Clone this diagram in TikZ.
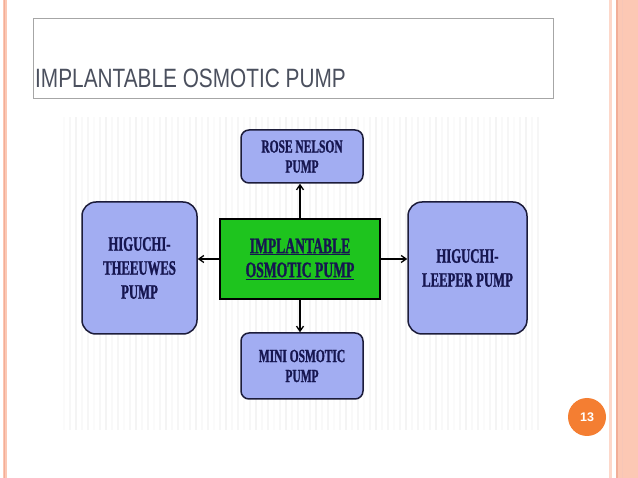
\documentclass[tikz,border=0pt]{standalone}
\usepackage{fontspec}
\usetikzlibrary{arrows.meta}
\newfontfamily\boxfont[FakeStretch=0.62,BoldFeatures={FakeBold=1.2}]{Liberation Serif}
\newfontfamily\titlefont[FakeStretch=0.785]{Liberation Sans}
\newfontfamily\numfont{Liberation Sans}
\definecolor{boxfill}{HTML}{A2ADF2}
\definecolor{boxline}{HTML}{1C1C3A}
\definecolor{boxtext}{HTML}{161650}
\definecolor{ctrfill}{HTML}{1EC41E}
\definecolor{titlegray}{HTML}{4B505E}
\definecolor{salmon}{HTML}{FCC8B4}
\definecolor{salmondark}{HTML}{F2AE98}
\definecolor{pgorange}{HTML}{F47E32}
\begin{document}
\begin{tikzpicture}[x=1pt,y=-1pt,
  pumpbox/.style={draw=boxline,line width=1.5pt,fill=boxfill,text=boxtext,align=center,inner sep=2pt,
    font=\boxfont\bfseries\fontsize{18.5}{20}\selectfont},
  bigbox/.style={pumpbox,rounded corners=14pt,font=\boxfont\bfseries\fontsize{20.5}{24}\selectfont},
  smallbox/.style={pumpbox,rounded corners=8pt},
  ctrbox/.style={draw=black,line width=1.5pt,fill=ctrfill,text=boxtext,align=center,
    font=\boxfont\bfseries\fontsize{22}{24}\selectfont},
  link/.style={line width=1.3pt,-{Straight Barb[length=5pt,width=7pt]}}]
\useasboundingbox (0,0) rectangle (638,478);
\fill[white] (0,0) rectangle (638,478);
% borders
\fill[salmon] (3,0) rectangle (7,478);
\fill[salmondark] (4,0) rectangle (5,478);
\fill[salmon!70] (609,0) rectangle (612,478);
\fill[salmon] (616,0) rectangle (638,478);
\fill[salmondark] (616,0) rectangle (618,478);
\fill[salmondark!70] (622,0) rectangle (623,478);
% striped picture background
\foreach \i in {0,...,79} {
  \pgfmathsetmacro{\op}{mod(\i*37,5)*1.5+3}
  \fill[gray!\op!white] (63+6*\i,117) rectangle (65+6*\i,430);
}
% title
\node[draw=gray!70,line width=0.8pt,minimum width=520pt,minimum height=80pt,inner sep=0pt] (titlebox) at (293,58) {};
\node[anchor=base west,inner sep=0pt,text=titlegray,font=\titlefont\fontsize{26.5}{30}\selectfont] (title) at (35,87.5) {IMPLANTABLE OSMOTIC PUMP};
% nodes
\node[ctrbox,minimum width=160pt,minimum height=80pt] (ctr) at (300,259) {\underline{IMPLANTABLE}\\\underline{OSMOTIC PUMP}};
\node[smallbox,minimum width=122pt,minimum height=53pt] (top) at (302,156.5) {ROSE NELSON\\PUMP};
\node[smallbox,minimum width=122pt,minimum height=66pt] (bot) at (302,366) {MINI OSMOTIC\\PUMP};
\node[bigbox,minimum width=115pt,minimum height=132pt] (lft) at (139.5,268) {HIGUCHI-\\THEEUWES\\PUMP};
\node[bigbox,minimum width=119pt,minimum height=132pt] (rgt) at (467.5,268) {HIGUCHI-\\LEEPER PUMP};
% connectors
\draw[link] (ctr.north) -- (ctr.north |- top.south);
\draw[link] (ctr.south) -- (ctr.south |- bot.north);
\draw[link] (ctr.west) -- (ctr.west -| lft.east);
\draw[link] (ctr.east) -- (ctr.east -| rgt.west);
% page number
\node[circle,fill=pgorange,minimum size=38pt,inner sep=0pt,text=white,font=\numfont\bfseries\fontsize{12.5}{14}\selectfont] (pg) at (587,417) {13};
\end{tikzpicture}
\end{document}
